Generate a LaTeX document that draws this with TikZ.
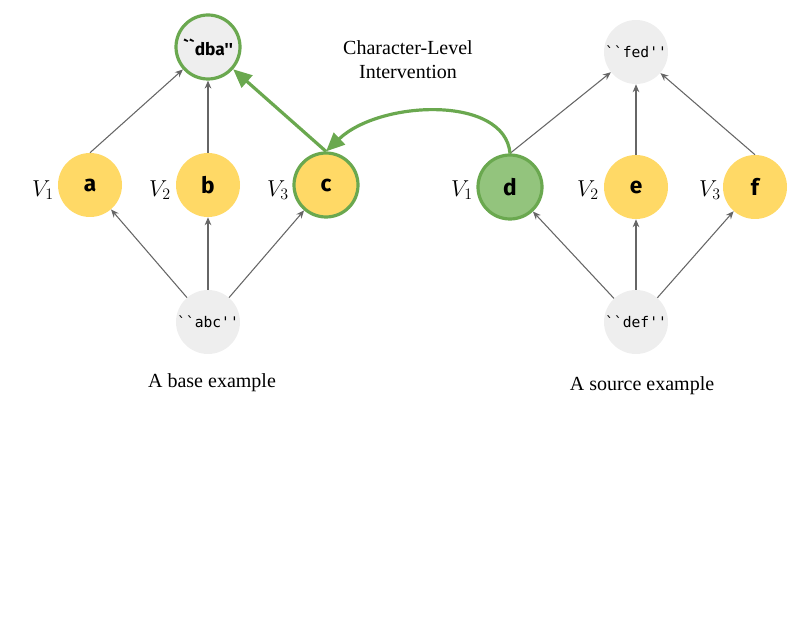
\documentclass[tikz,border=0pt]{standalone}
\usepackage{fontspec}
\setmainfont{Liberation Serif}
\newfontfamily\labelfont{Fira Sans}
\newfontfamily\codefont{DejaVu Sans Mono}
\usetikzlibrary{arrows.meta}
\definecolor{varyellow}{HTML}{FFD966}
\definecolor{strgray}{HTML}{EEEEEE}
\definecolor{intgreen}{HTML}{6AA84F}
\definecolor{dgreen}{HTML}{93C47D}
\begin{document}
\begin{tikzpicture}[x=0.75pt,y=-0.75pt,
    var/.style={circle, fill=varyellow, minimum size=48pt, inner sep=0pt, font=\labelfont\bfseries\fontsize{17}{17}\selectfont},
    str/.style={circle, fill=strgray, minimum size=48pt, inner sep=0pt, font=\codefont\fontsize{11}{11}\selectfont},
    hit/.style={draw=intgreen, line width=2.4pt},
    edge/.style={draw=black!60, line width=0.8pt, -{Stealth[length=6pt,width=5pt]}},
    vname/.style={font=\fontsize{18}{18}\selectfont},
]
\useasboundingbox (0,0) rectangle (806,623);

% base example
\node[str, hit, font=\labelfont\bfseries\fontsize{13}{13}\selectfont] (dba) at (208,47) {``dba''};
\node[var] (a) at (90,185) {a};
\node[var] (b) at (208,185) {b};
\node[var, hit] (c) at (326,185) {c};
\node[str] (abc) at (208,322) {``abc''};
\foreach \n/\x in {1/43, 2/160, 3/278}
  \node[vname] (bv\n) at (\x,190) {$V_{\n}$};
\foreach \v in {a, b, c}
  \draw[edge] (abc) -- (\v);
\draw[edge] (a.north) -- (dba);
\draw[edge] (b) -- (dba);
\node[font=\fontsize{15}{15}\selectfont] (base) at (212,383) {A base example};

% source example
\node[str] (fed) at (636,52) {``fed''};
\node[var, hit, fill=dgreen] (d) at (510,187) {d};
\node[var] (e) at (636,187) {e};
\node[var] (f) at (755,187) {f};
\node[str] (def) at (636,322) {``def''};
\foreach \n/\x in {1/462, 2/588, 3/710}
  \node[vname] (sv\n) at (\x,190) {$V_{\n}$};
\foreach \v in {d, e, f}
  \draw[edge] (def) -- (\v);
\draw[edge] (d.north) -- (fed);
\draw[edge] (e) -- (fed);
\draw[edge] (f.north) -- (fed);
\node[font=\fontsize{15}{15}\selectfont] (source) at (642,386) {A source example};

% intervention
\draw[intgreen, line width=2.4pt, -{Triangle[length=14pt,width=12pt]}]
  (d.north) .. controls (505,95) and (380,100) .. (c.north);
\draw[intgreen, line width=2.4pt, -{Triangle[length=14pt,width=12pt]}] (c.north) -- (dba);
\node[align=center, font=\fontsize{15}{18}\selectfont] (inter) at (408,60) {Character-Level\\Intervention};
\end{tikzpicture}
\end{document}
